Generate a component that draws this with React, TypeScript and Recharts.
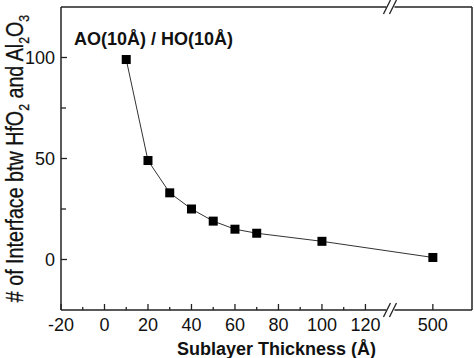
import { ComposedChart, Line, XAxis, YAxis } from 'recharts'

const thickness = [10, 20, 30, 40, 50, 60, 70, 100, 500]
const interfaceCount = [99, 49, 33, 25, 19, 15, 13, 9, 1]
const xMajorTicks = [-20, 0, 20, 40, 60, 80, 100, 120, 500]
const xMinorTicks = [-10, 10, 30, 50, 70, 90, 110]
const yMajorTicks = [0, 50, 100]
const yMinorTicks = [25, 75]

// broken x axis: values past the break are pulled left onto the short segment
const BREAK_AT = 131.5
const BREAK_SHIFT = 349
const toAxis = (v: number) => (v > BREAK_AT ? v - BREAK_SHIFT : v)
const fromAxis = (v: number) => (v > BREAK_AT ? v + BREAK_SHIFT : v)

const data = thickness.map((t, i) => ({ x: toAxis(t), y: interfaceCount[i] }))

const FONT = "'Liberation Sans', Arial, sans-serif"
const AXIS = '#222'

function BreakMark({ x, y }: { x: number; y: number }) {
  return (
    <g>
      <rect x={x - 4} y={y - 2} width={8} height={4} fill='#fff' />
      <line x1={x - 7} y1={y + 7} x2={x} y2={y - 7} stroke={AXIS} strokeWidth={1.3} />
      <line x1={x - 1} y1={y + 7} x2={x + 6} y2={y - 7} stroke={AXIS} strokeWidth={1.3} />
    </g>
  )
}

function XTick({ x, y, payload }: any) {
  const v = payload.value
  if (v === BREAK_AT) return <BreakMark x={x} y={y} />
  const real = Math.round(fromAxis(v))
  const major = xMajorTicks.includes(real)
  return (
    <g>
      <line x1={x} y1={y} x2={x} y2={y - (major ? 6 : 3)} stroke={AXIS} strokeWidth={1.3} />
      {major && (
        <text x={x} y={y + 21} textAnchor='middle' fontSize={18} fontFamily={FONT} fill='#111'>
          {real}
        </text>
      )}
    </g>
  )
}

function TopTick({ x, y }: any) {
  return <BreakMark x={x} y={y} />
}

function YTick({ x, y, payload }: any) {
  const major = yMajorTicks.includes(payload.value)
  return (
    <g>
      <line x1={x} y1={y} x2={x + (major ? 6 : 5)} y2={y} stroke={AXIS} strokeWidth={1.3} />
      {major && (
        <text x={x - 6} y={y + 6} textAnchor='end' fontSize={18} fontFamily={FONT} fill='#111'>
          {payload.value}
        </text>
      )}
    </g>
  )
}

function YTitle({ viewBox }: any) {
  const cx = viewBox.x + 23
  const cy = viewBox.y + viewBox.height / 2
  return (
    <text
      transform={`translate(${cx},${cy}) rotate(-90) scale(0.82,1)`}
      textAnchor='middle'
      fontSize={24}
      fontFamily={FONT}
      fill='#111'
      stroke='#111'
      strokeWidth={0.3}
    >
      # of Interface btw HfO
      <tspan dy={6} fontSize={15}>2</tspan>
      <tspan dy={-6}> and Al</tspan>
      <tspan dy={6} fontSize={15}>2</tspan>
      <tspan dy={-6}>O</tspan>
      <tspan dy={6} fontSize={15}>3</tspan>
    </text>
  )
}

function XTitle({ viewBox }: any) {
  return (
    <text
      x={viewBox.x + viewBox.width / 2 + 10}
      y={viewBox.y + 45}
      textAnchor='middle'
      fontSize={18}
      fontWeight='bold'
      fontFamily={FONT}
      fill='#111'
    >
      Sublayer Thickness (Å)
    </text>
  )
}

function InsideTitle({ viewBox }: any) {
  return (
    <text
      x={viewBox.x + 13}
      y={viewBox.y + viewBox.height + 38}
      fontSize={18}
      fontWeight='bold'
      fontFamily={FONT}
      fill='#111'
    >
      AO(10Å) / HO(10Å)
    </text>
  )
}

function Square({ cx, cy }: any) {
  if (cx == null || cy == null) return null
  return <rect x={cx - 4.5} y={cy - 4.5} width={9} height={9} fill='#000' />
}

export default function App() {
  const xTicks = [...xMajorTicks, ...xMinorTicks].map(toAxis).concat(BREAK_AT)
  const yTicks = [...yMajorTicks, ...yMinorTicks]
  const xDomain = [-20, 169]
  const yDomain = [-25, 125]

  return (
    <div style={{ position: 'absolute', left: 0, top: 0, background: '#fff' }}>
      <ComposedChart width={474} height={358} data={data} margin={{ top: 6, right: 1, bottom: 0, left: 0 }}>
        <XAxis
          xAxisId='b'
          dataKey='x'
          type='number'
          domain={xDomain}
          ticks={xTicks}
          interval={0}
          height={48}
          tickSize={0}
          tickMargin={0}
          tick={<XTick />}
          axisLine={{ stroke: AXIS, strokeWidth: 1.5 }}
          label={<XTitle />}
        />
        <XAxis
          xAxisId='t'
          dataKey='x'
          orientation='top'
          type='number'
          domain={xDomain}
          ticks={[BREAK_AT]}
          interval={0}
          height={1}
          tickSize={0}
          tickMargin={0}
          tick={<TopTick />}
          axisLine={{ stroke: AXIS, strokeWidth: 1.5 }}
          label={<InsideTitle />}
        />
        <YAxis
          yAxisId='l'
          type='number'
          domain={yDomain}
          ticks={yTicks}
          interval={0}
          width={61}
          tickSize={0}
          tickMargin={0}
          tick={<YTick />}
          axisLine={{ stroke: AXIS, strokeWidth: 1.5 }}
          label={<YTitle />}
        />
        <YAxis
          yAxisId='r'
          orientation='right'
          type='number'
          domain={yDomain}
          ticks={[0]}
          width={1}
          tick={() => <g />}
          tickLine={false}
          axisLine={{ stroke: AXIS, strokeWidth: 1.5 }}
        />
        <Line
          xAxisId='b'
          yAxisId='l'
          type='linear'
          dataKey='y'
          stroke='#333'
          strokeWidth={1}
          dot={<Square />}
          activeDot={false}
          isAnimationActive={false}
        />
        {/* keeps the top and right frame axes attached to data */}
        <Line
          xAxisId='t'
          yAxisId='r'
          dataKey='y'
          stroke='none'
          dot={false}
          activeDot={false}
          legendType='none'
          isAnimationActive={false}
        />
      </ComposedChart>
    </div>
  )
}
